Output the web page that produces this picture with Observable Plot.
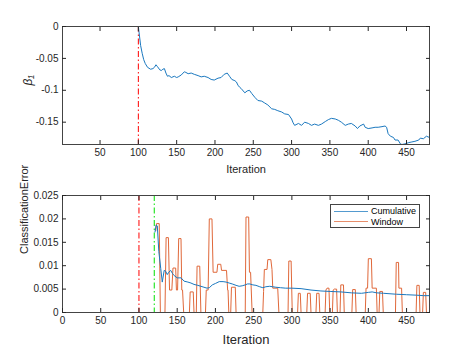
<!DOCTYPE html>
<html><head><meta charset="utf-8">
<script src="https://cdn.jsdelivr.net/npm/d3@7"></script>
<script src="https://cdn.jsdelivr.net/npm/@observablehq/plot@0.6"></script>
<style>
body{margin:0;background:#fff;}
#wrap{position:relative;width:474px;height:355px;font-family:"Liberation Sans",Arial,Helvetica,sans-serif;}
#wrap svg{display:block;}
.legend{position:absolute;left:330px;top:204px;width:88px;height:22px;border:1px solid #444;background:#fff;font-size:9px;color:#000;}
.legend .sw{position:absolute;left:3px;width:34px;height:0;border-top:1px solid;opacity:0.75;}
.legend .lb{position:absolute;left:40px;line-height:10px;}
</style>
</head><body>
<div id="wrap"></div>
<script>
// ---- data ----
const changePoint = [100];
const detectionPoint = [120];

const topXTicks = [50, 100, 150, 200, 250, 300, 350, 400, 450];
const topYTicks = [0, -0.05, -0.1, -0.15];
const bottomXTicks = [0, 50, 100, 150, 200, 250, 300, 350, 400, 450];
const bottomYTicks = [0, 0.005, 0.01, 0.015, 0.02, 0.025];

const betaIter = [1, 100, 101, 103, 105, 107, 109, 112, 116, 119, 121, 123, 125, 128, 130, 132, 134, 136, 138, 140, 143, 147, 150, 152, 156, 160, 162, 165, 169, 173, 178, 182, 186, 191, 195, 199, 204, 208, 212, 216, 219, 222, 226, 228, 230, 232, 234, 239, 242, 245, 248, 252, 256, 261, 265, 269, 274, 278, 282, 287, 291, 296, 300, 302, 304, 309, 313, 317, 322, 326, 330, 335, 339, 344, 348, 352, 357, 361, 365, 370, 374, 378, 383, 386, 389, 394, 396, 400, 405, 409, 413, 418, 422, 424, 426, 429, 433, 435, 439, 442, 444, 448, 453, 457, 461, 466, 468, 472, 476, 480];
const betaValue = [0, 0, -0.010, -0.030, -0.042, -0.052, -0.058, -0.064, -0.067, -0.066, -0.064, -0.060, -0.063, -0.068, -0.069, -0.067, -0.066, -0.073, -0.078, -0.077, -0.080, -0.078, -0.080, -0.079, -0.076, -0.071, -0.072, -0.074, -0.073, -0.075, -0.077, -0.079, -0.078, -0.080, -0.083, -0.084, -0.081, -0.080, -0.075, -0.073, -0.078, -0.083, -0.085, -0.087, -0.092, -0.095, -0.097, -0.104, -0.101, -0.100, -0.105, -0.111, -0.116, -0.117, -0.120, -0.123, -0.129, -0.130, -0.132, -0.134, -0.137, -0.138, -0.145, -0.151, -0.155, -0.152, -0.155, -0.150, -0.152, -0.155, -0.153, -0.155, -0.153, -0.149, -0.146, -0.144, -0.145, -0.147, -0.150, -0.155, -0.153, -0.152, -0.156, -0.160, -0.156, -0.153, -0.158, -0.160, -0.159, -0.158, -0.158, -0.157, -0.156, -0.158, -0.168, -0.172, -0.174, -0.178, -0.178, -0.184, -0.185, -0.184, -0.182, -0.181, -0.180, -0.178, -0.175, -0.176, -0.172, -0.174];

const cumIter = [121, 122.5, 124, 126, 128.5, 130.5, 133, 135, 137, 139, 141.5, 144, 146, 150, 155, 159, 164, 168, 172, 177, 181, 185, 189, 192, 196, 200, 205, 210, 214, 218, 222, 227, 231, 235, 239, 242, 245, 249, 253, 258, 262, 266, 271, 275, 279, 285, 292, 300, 312, 325, 338, 350, 364, 378, 391, 400, 405, 411, 420, 437, 450, 463, 472, 480];
const cumErr = [0.0172, 0.0187, 0.0185, 0.013, 0.0094, 0.0065, 0.009, 0.0088, 0.0081, 0.0086, 0.009, 0.0083, 0.0079, 0.0074, 0.0074, 0.0067, 0.0065, 0.0063, 0.006, 0.0058, 0.0056, 0.0054, 0.0052, 0.0053, 0.0059, 0.0062, 0.0066, 0.0066, 0.0065, 0.0063, 0.0061, 0.0058, 0.0056, 0.0057, 0.0059, 0.0061, 0.0061, 0.0059, 0.0058, 0.0055, 0.0053, 0.0055, 0.0056, 0.0055, 0.0054, 0.0053, 0.0052, 0.0052, 0.0051, 0.0048, 0.0046, 0.0045, 0.0044, 0.0042, 0.0041, 0.0043, 0.0044, 0.0042, 0.0041, 0.0039, 0.0038, 0.0037, 0.0036, 0.0036];

const winIter = [122, 123, 126.5, 128, 134, 135.5, 138.5, 140, 143, 144.5, 148, 149, 150.5, 152, 155, 156, 157, 158.5, 166, 167, 171, 172, 175, 176, 179.5, 181, 187, 188, 190.5, 192, 195.5, 197, 202, 203, 207, 208, 214.5, 216, 216.5, 217.5, 220, 221, 226, 227, 239, 240, 243.5, 244.5, 246, 248, 262, 263, 264, 267.5, 268.5, 272.5, 274, 275, 281.5, 283, 295, 296, 299, 300.5, 307.5, 308.5, 311, 312, 319.5, 320.5, 324, 325, 331.5, 332.5, 335.5, 336.5, 343.5, 344.5, 346, 348.5, 349.5, 353, 354, 355.5, 358.5, 359.5, 363, 364, 367.5, 368.5, 378.5, 379.5, 383, 384, 396, 397, 399, 400, 404, 405, 410.5, 411.5, 414, 415, 418.5, 419.5, 435.5, 436.5, 439.5, 440, 443.5, 444.5, 462.5, 463.5, 466.5, 467.5, 471, 472, 475, 476, 480];
const winErr = [0.0175, 0.019, 0.019, 0, 0, 0.016, 0.016, 0.0048, 0.0048, 0.0095, 0.0095, 0.0048, 0.0048, 0.0158, 0.0158, 0.0048, 0.0048, 0, 0, 0.0044, 0.0044, 0, 0, 0.0099, 0.0099, 0, 0, 0.0048, 0.0048, 0.02, 0.02, 0.0086, 0.0086, 0.0103, 0.0103, 0.009, 0.009, 0.0048, 0.0048, 0, 0, 0.0054, 0.0054, 0, 0, 0.0204, 0.0204, 0.0086, 0.0086, 0, 0, 0.0045, 0.0092, 0.0092, 0.0113, 0.0113, 0.0092, 0.0052, 0.0052, 0, 0, 0.011, 0.011, 0, 0, 0.0041, 0.0041, 0, 0, 0.0041, 0.0041, 0, 0, 0.0041, 0.0041, 0, 0, 0.0048, 0.0052, 0.0052, 0, 0, 0.0048, 0.005, 0.005, 0, 0, 0.0059, 0.0059, 0, 0, 0.0049, 0.0049, 0, 0, 0.0052, 0.0052, 0.0115, 0.0115, 0.0052, 0.0052, 0, 0, 0.0045, 0.0045, 0, 0, 0.0107, 0.0107, 0.0052, 0.0052, 0, 0, 0.0058, 0.0058, 0, 0, 0.0043, 0.0043, 0, 0];

const seriesNames = ["Cumulative", "Window"];
const seriesColors = ["#1A78BF", "#E0683A"];

// ---- tables ----
const betaData = betaIter.map((x, i) => ({iter: x, beta: betaValue[i]}));
const cumData = cumIter.map((x, i) => ({iter: x, err: cumErr[i]}));
const winData = winIter.map((x, i) => ({iter: x, err: winErr[i]}));

const font = '"Liberation Sans", Arial, Helvetica, sans-serif';
const axisColor = "#262626";
const dashDot = "6,2.5,1.5,2.5";
const fmt = d => String(d);

const topPlot = Plot.plot({
  width: 474, height: 177,
  marginLeft: 62, marginRight: 45, marginTop: 26, marginBottom: 33,
  x: {domain: [1, 480]},
  y: {domain: [-0.185, 0]},
  style: {fontFamily: font, fontSize: "10px", color: axisColor, background: "white", overflow: "visible"},
  marks: [
    Plot.ruleX(changePoint, {x: d => d, stroke: "#FF0000", strokeDasharray: dashDot, strokeWidth: 1}),
    Plot.line(betaData, {x: "iter", y: "beta", stroke: seriesColors[0], strokeWidth: 1}),
    Plot.frame({stroke: "#444"}),
    Plot.axisX({ticks: topXTicks, tickSize: -4, tickPadding: 8, tickFormat: fmt, label: null}),
    Plot.axisX({anchor: "top", ticks: topXTicks, tickSize: -4, fill: "none", label: null}),
    Plot.axisY({ticks: topYTicks, tickSize: -4, tickPadding: 8, tickFormat: fmt, label: null}),
    Plot.axisY({anchor: "right", ticks: topYTicks, tickSize: -4, fill: "none", label: null}),
    Plot.text(["Iteration"], {text: d => d, frameAnchor: "bottom", lineAnchor: "middle", dy: 25, fontSize: 11, fill: axisColor}),
    Plot.text(["β₁"], {text: d => d, frameAnchor: "left", rotate: -90, dx: -34, fontSize: 12, fontStyle: "italic", fill: axisColor})
  ]
});

const bottomPlot = Plot.plot({
  width: 474, height: 178,
  marginLeft: 62, marginRight: 45, marginTop: 18, marginBottom: 43,
  x: {domain: [0, 480]},
  y: {domain: [0, 0.025]},
  style: {fontFamily: font, fontSize: "10px", color: axisColor, background: "white", overflow: "visible"},
  marks: [
    Plot.ruleX(changePoint, {x: d => d, stroke: "#FF0000", strokeDasharray: dashDot, strokeWidth: 1}),
    Plot.ruleX(detectionPoint, {x: d => d, stroke: "#00E000", strokeDasharray: dashDot, strokeWidth: 1}),
    Plot.line(winData, {x: "iter", y: "err", stroke: seriesColors[1], strokeWidth: 1}),
    Plot.line(cumData, {x: "iter", y: "err", stroke: seriesColors[0], strokeWidth: 1}),
    Plot.frame({stroke: "#444"}),
    Plot.axisX({ticks: bottomXTicks, tickSize: -4, tickPadding: 8, tickFormat: fmt, label: null}),
    Plot.axisX({anchor: "top", ticks: bottomXTicks, tickSize: -4, fill: "none", label: null}),
    Plot.axisY({ticks: bottomYTicks, tickSize: -4, tickPadding: 8, tickFormat: fmt, label: null}),
    Plot.axisY({anchor: "right", ticks: bottomYTicks, tickSize: -4, fill: "none", label: null}),
    Plot.text(["Iteration"], {text: d => d, frameAnchor: "bottom", lineAnchor: "middle", dy: 27, fontSize: 13, fill: axisColor}),
    Plot.text(["ClassificationError"], {text: d => d, frameAnchor: "left", rotate: -90, dx: -38, fontSize: 11, fill: axisColor})
  ]
});

const wrap = document.getElementById("wrap");
wrap.appendChild(topPlot);
wrap.appendChild(bottomPlot);

const legend = document.createElement("div");
legend.className = "legend";
seriesNames.forEach((name, i) => {
  const sw = document.createElement("span");
  sw.className = "sw";
  sw.style.borderTopColor = seriesColors[i];
  sw.style.top = (5.5 + i * 10.5) + "px";
  legend.appendChild(sw);
  const lb = document.createElement("span");
  lb.className = "lb";
  lb.textContent = name;
  lb.style.top = (1 + i * 10.5) + "px";
  legend.appendChild(lb);
});
wrap.appendChild(legend);
</script>
</body></html>
